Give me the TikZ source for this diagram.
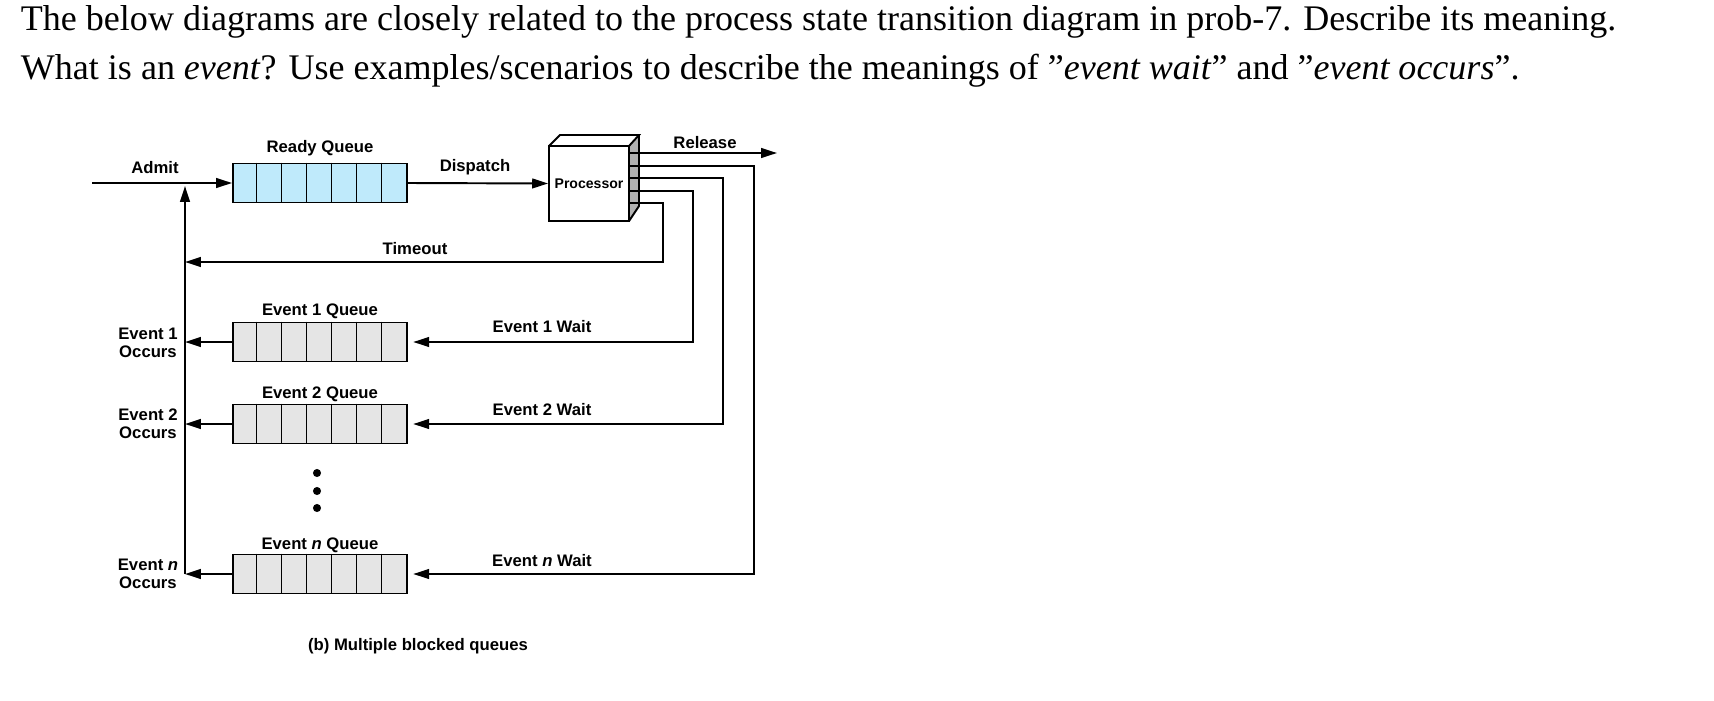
\documentclass[tikz,border=0pt]{standalone}
\usepackage{fontspec}
\setmainfont{Liberation Serif}
\newfontfamily\hv{Liberation Sans}
\usetikzlibrary{arrows.meta}
\begin{document}
\begin{tikzpicture}[x={(0.02cm,0)},y={(0,-0.02cm)},
  line width=1.1pt,
  arr/.style={-{Triangle[length=9pt,width=5.5pt]}},
  lbl/.style={font=\hv\bfseries\fontsize{9.5}{10}\selectfont,inner sep=0pt},
  queue/.style={draw,minimum width=3.48cm,minimum height=0.78cm,inner sep=0pt},
  hdr/.style={font=\fontsize{20.5}{24}\selectfont,anchor=base west,inner sep=0pt}]
\useasboundingbox (0,0) rectangle (1714,700);
\node[hdr] (h1) at (20,30) {The below diagrams are closely related to the process state transition diagram in prob-7. Describe its meaning.};
\node[hdr] (h2) at (20,79) {What is an \textit{event}? Use examples/scenarios to describe the meanings of "\textit{event wait}" and "\textit{event occurs}".};
% queues
\foreach \n/\y/\c in {rq/183/cyan!25, e1/342/black!10, e2/424/black!10, en/574/black!10}{
  \node[queue,fill=\c] (\n) at (320,\y) {};
  \foreach \i in {1,...,6} \draw[line width=0.6pt] ([xshift=\i*0.497cm]\n.north west) -- ([xshift=\i*0.497cm]\n.south west);
}
% processor
\fill[black!30] (629,146) -- (639,135) -- (639,206) -- (629,221) -- cycle;
\draw (549,146) -- (560,135) -- (639,135) -- (629,146);
\draw (639,135) -- (639,206) -- (629,221);
\node[draw,fill=white,minimum width=1.6cm,minimum height=1.5cm,inner sep=0pt,font=\hv\bfseries\fontsize{8}{9}\selectfont] (P) at (589,183.5) {Processor};
% coordinates
\coordinate (ad0) at (92,183);
\coordinate (vj) at (185,186);
\coordinate (vb) at (185,574);
\coordinate (rel) at (777,153);
\foreach \k/\y in {1/153,2/166,3/178,4/191,5/203}{\coordinate (s\k) at (639,\y); \draw[line width=0.6pt] (629,\y) -- (639,\y);}
% connectors
\draw[arr] (ad0) -- (rq.west);
\draw[arr] (rq.east) -- (P.west);
\draw[arr] (s1) -- (rel);
\draw[arr] (s5) -| (663,262) -- (185,262);
\draw[arr] (s4) -| (693,342) -- ([xshift=3pt]e1.east);
\draw[arr] (s3) -| (723,424) -- ([xshift=3pt]e2.east);
\draw[arr] (s2) -| (754,574) -- ([xshift=3pt]en.east);
\draw[arr] (vb) -- (vj);
\draw[arr] (e1.west) -- (185,342);
\draw[arr] (e2.west) -- (185,424);
\draw[arr] (en.west) -- (185,574);
% labels
\node[lbl] (la) at (155,168) {Admit};
\node[lbl] (lr) at (320,148) {Ready Queue};
\node[lbl] (ld) at (475,167) {Dispatch};
\node[lbl] (lre) at (705,143) {Release};
\node[lbl] (lt) at (415,249) {Timeout};
\node[lbl] (q1) at (320,311) {Event 1 Queue};
\node[lbl] (q2) at (320,394) {Event 2 Queue};
\node[lbl] (qn) at (320,545) {Event \textit{n} Queue};
\node[lbl] (w1) at (542,327) {Event 1 Wait};
\node[lbl] (w2) at (542,410) {Event 2 Wait};
\node[lbl] (wn) at (542,561) {Event \textit{n} Wait};
\node[lbl,align=center] (o1) at (148,343) {Event 1\\Occurs};
\node[lbl,align=center] (o2) at (148,424) {Event 2\\Occurs};
\node[lbl,align=center] (on) at (148,574) {Event \textit{n}\\Occurs};
\foreach \y in {473,491,508} \fill (317,\y) circle (2.3pt);
\node[lbl] (cap) at (418,646) {(b) Multiple blocked queues};
\end{tikzpicture}
\end{document}
